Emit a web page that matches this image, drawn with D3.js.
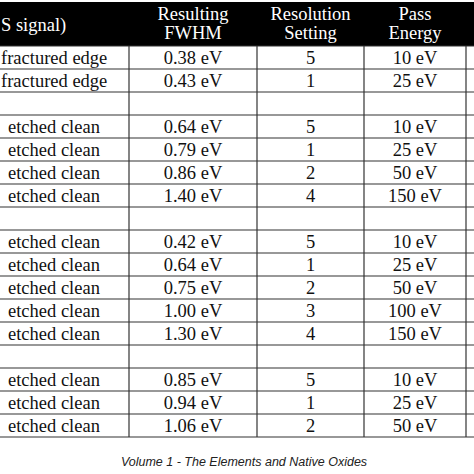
<!DOCTYPE html><html><head><meta charset="utf-8">
<script src="https://cdn.jsdelivr.net/npm/d3@7"></script>
<style>body{margin:0;background:#fff}</style></head><body>
<script>
const samples=["fractured edge","fractured edge","","etched clean","etched clean","etched clean","etched clean","","etched clean","etched clean","etched clean","etched clean","etched clean","","etched clean","etched clean","etched clean"];
const fwhm=["0.38 eV","0.43 eV","","0.64 eV","0.79 eV","0.86 eV","1.40 eV","","0.42 eV","0.64 eV","0.75 eV","1.00 eV","1.30 eV","","0.85 eV","0.94 eV","1.06 eV"];
const resolution=["5","1","","5","1","2","4","","5","1","2","3","4","","5","1","2"];
const passEnergy=["10 eV","25 eV","","10 eV","25 eV","50 eV","150 eV","","10 eV","25 eV","50 eV","100 eV","150 eV","","10 eV","25 eV","50 eV"];
const headers=[["S signal)"],["Resulting","FWHM"],["Resolution","Setting"],["Pass","Energy"]];
const caption="Volume 1 -  The Elements and Native Oxides";
const W=474,H=474;
const svg=d3.select("body").append("svg").attr("width",W).attr("height",H);
const colEdges=[0,129,257,364,466,474];
const y=d3.scaleBand().domain(d3.range(samples.length)).range([46,437]);
svg.append("rect").attr("x",0).attr("y",2).attr("width",W).attr("height",44).attr("fill","#000");
const font="'Liberation Serif','Times New Roman',serif";
headers.forEach((h,i)=>{
  const cx=i==0?1:(colEdges[i]+colEdges[i+1])/2;
  h.forEach((t,j)=>{
    svg.append("text").attr("x",cx).attr("y",h.length==1?31:(20+j*19)).attr("text-anchor",i==0?"start":"middle")
    .attr("fill","#fff").attr("font-family",font).attr("font-size",18.5).text(t);
  });
});
const g=svg.append("g").attr("stroke","#333").attr("stroke-width",1.2);
d3.range(samples.length+1).forEach(i=>{const yy=i==samples.length?437:y(i);g.append("line").attr("x1",0).attr("x2",W).attr("y1",yy).attr("y2",yy);});
[129,257,364,466].forEach(x=>g.append("line").attr("x1",x).attr("x2",x).attr("y1",46).attr("y2",437));
const cols=[samples,fwhm,resolution,passEnergy];
cols.forEach((arr,c)=>{
  arr.forEach((t,i)=>{
    if(!t)return;
    svg.append("text").attr("x",c==0?(t.startsWith("etched")?8:1):(colEdges[c]+colEdges[c+1])/2)
     .attr("y",y(i)+y.bandwidth()/2+6).attr("text-anchor",c==0?"start":"middle")
     .attr("font-family",font).attr("font-size",18.5).attr("fill","#111").text(t);
  });
});
svg.append("text").attr("x",244).attr("y",466).attr("text-anchor","middle").attr("font-family","'Liberation Sans',Arial,sans-serif")
 .attr("font-style","italic").attr("font-size",12.5).attr("fill","#222").text(caption);
</script></body></html>
